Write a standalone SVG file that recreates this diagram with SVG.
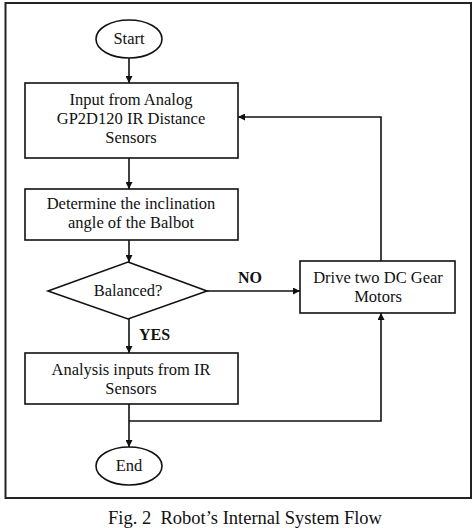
<svg xmlns="http://www.w3.org/2000/svg" width="474" height="528" viewBox="0 0 474 528">
<style>
.n{fill:#fff;stroke:#111;stroke-width:1.6}
.t{font-family:"Liberation Serif","Times New Roman",serif;font-size:16.5px;fill:#111;text-anchor:middle}
.b{font-family:"Liberation Serif","Times New Roman",serif;font-size:16px;font-weight:bold;fill:#111}
.c{fill:none;stroke:#111;stroke-width:1.6}
</style>
<defs>
<marker id="ah" viewBox="0 0 10 10" refX="10" refY="5" markerWidth="7" markerHeight="7" markerUnits="userSpaceOnUse" orient="auto">
<path d="M0,0 L10,5 L0,10 z" fill="#111"/>
</marker>
</defs>
<rect width="474" height="528" fill="#fff"/>
<rect x="5.5" y="3" width="465.5" height="495" fill="none" stroke="#222" stroke-width="2"/>
<g id="connectors">
<path class="c" d="M129,58 V83" marker-end="url(#ah)"/>
<path class="c" d="M129,158 V189" marker-end="url(#ah)"/>
<path class="c" d="M129,240 V262" marker-end="url(#ah)"/>
<path class="c" d="M207,291 H300" marker-end="url(#ah)"/>
<path class="c" d="M381,261 V117 H238" marker-end="url(#ah)"/>
<path class="c" d="M129,319 V353" marker-end="url(#ah)"/>
<path class="c" d="M129,404 V447" marker-end="url(#ah)"/>
<path class="c" d="M129,421 H381 V313" marker-end="url(#ah)"/>
<text class="b" x="238" y="283">NO</text>
<text class="b" x="139" y="340">YES</text>
</g>
<g id="start">
<ellipse class="n" cx="129" cy="39" rx="33" ry="19"/>
<text class="t" x="129" y="44">Start</text>
</g>
<g id="input">
<rect class="n" x="25" y="83" width="213" height="75"/>
<text class="t" x="131" y="105">Input from Analog</text>
<text class="t" x="131" y="124">GP2D120 IR Distance</text>
<text class="t" x="131" y="143">Sensors</text>
</g>
<g id="determine">
<rect class="n" x="25" y="189" width="213" height="51"/>
<text class="t" x="131" y="209">Determine the inclination</text>
<text class="t" x="131" y="228">angle of the Balbot</text>
</g>
<g id="balanced">
<polygon class="n" points="128,262 207,291 128,319 48,291"/>
<text class="t" x="128" y="296">Balanced?</text>
</g>
<g id="drive">
<rect class="n" x="300" y="261" width="155" height="52"/>
<text class="t" x="378" y="283">Drive two DC Gear</text>
<text class="t" x="378" y="302">Motors</text>
</g>
<g id="analysis">
<rect class="n" x="25" y="353" width="213" height="51"/>
<text class="t" x="131" y="375">Analysis inputs from IR</text>
<text class="t" x="131" y="394">Sensors</text>
</g>
<g id="end">
<ellipse class="n" cx="129" cy="466" rx="33" ry="19"/>
<text class="t" x="129" y="471">End</text>
</g>
<text x="245" y="524" style="font-family:'Liberation Serif','Times New Roman',serif;font-size:18.5px;fill:#111;text-anchor:middle;white-space:pre">Fig. 2  Robot’s Internal System Flow</text>
</svg>
